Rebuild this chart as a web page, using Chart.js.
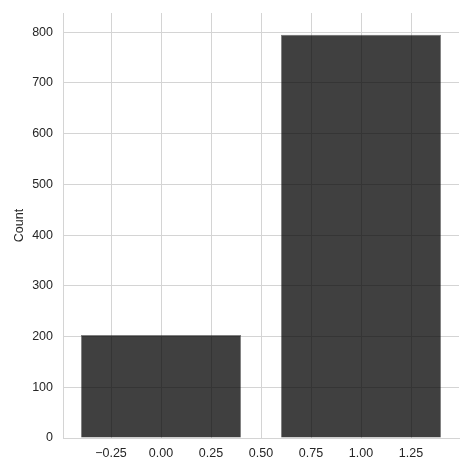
<!DOCTYPE html>
<html>
<head>
<meta charset="utf-8">
<script src="https://cdn.jsdelivr.net/npm/chart.js@4"></script>
<style>
  html, body { margin: 0; padding: 0; background: #ffffff; }
  #wrap { width: 474px; height: 474px; }
</style>
</head>
<body>
<div id="wrap"><canvas id="c" width="474" height="474"></canvas></div>
<script>
// Data
const binCenters = [0, 1];
const counts = [203, 795];
const xTickValues = [-0.25, 0, 0.25, 0.5, 0.75, 1.0, 1.25];
const yTickValues = [0, 100, 200, 300, 400, 500, 600, 700, 800];
const yTitle = "Count";
const yAxisMax = 838;

const points = binCenters.map((x, i) => ({ x: x, y: counts[i] }));
const xMin = -0.49, xMax = 1.49;
// bar width 0.8 data units; Chart.js ruler uses the smallest tick step (0.25)
const tickStep = 0.25;
const barWidthUnits = 0.8;

const textColor = '#262626';
const gridColor = '#d4d4d4';
const font = { family: "'Liberation Sans', Arial, sans-serif", size: 12.5 };

function fmtX(v) {
  const s = Math.abs(v).toFixed(2);
  return v < 0 ? '\u2212' + s : s;
}

new Chart(document.getElementById('c'), {
  type: 'bar',
  data: {
    datasets: [{
      data: points,
      backgroundColor: 'rgba(0,0,0,0.75)',
      borderColor: 'rgba(40,40,40,0.6)',
      borderWidth: 0.8,
      barPercentage: 1.0,
      categoryPercentage: barWidthUnits / tickStep
    }]
  },
  options: {
    responsive: false,
    animation: false,
    devicePixelRatio: 1,
    layout: { padding: { left: 0, top: 13, right: 15, bottom: 6 } },
    plugins: { legend: { display: false }, tooltip: { enabled: false } },
    scales: {
      x: {
        type: 'linear',
        offset: false,
        min: xMin,
        max: xMax,
        afterBuildTicks: (s) => { s.ticks = xTickValues.map(v => ({ value: v })); },
        afterFit: (s) => { s.height = 30; s.paddingLeft = 0; s.paddingRight = 0; },
        grid: { color: gridColor, lineWidth: 1, drawTicks: false, offset: false },
        border: { color: gridColor, width: 1 },
        ticks: {
          color: textColor, font: font, padding: 8, maxRotation: 0,
          callback: (v) => fmtX(v)
        }
      },
      y: {
        type: 'linear',
        min: 0,
        max: yAxisMax,
        afterBuildTicks: (s) => { s.ticks = yTickValues.map(v => ({ value: v })); },
        afterFit: (s) => { s.width = 63; s.paddingTop = 0; s.paddingBottom = 0; },
        grid: { color: gridColor, lineWidth: 1, drawTicks: false },
        border: { color: gridColor, width: 1 },
        title: {
          display: true, text: yTitle, color: textColor, font: font,
          padding: { top: 12, bottom: 0 }
        },
        ticks: {
          color: textColor, font: font, padding: 10,
          callback: (v) => String(v)
        }
      }
    }
  }
});
</script>
</body>
</html>
